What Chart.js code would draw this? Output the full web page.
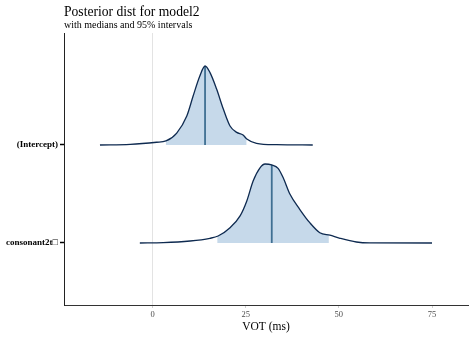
<!DOCTYPE html>
<html>
<head>
<meta charset="utf-8">
<script src="https://cdn.jsdelivr.net/npm/chart.js@4/dist/chart.umd.min.js"></script>
<style>
html,body{margin:0;padding:0;background:#fff;}
#wrap{width:474px;height:338px;}
</style>
</head>
<body>
<div id="wrap"><canvas id="c" width="474" height="338"></canvas></div>
<script>
// ---- data ----
const parameters = ["(Intercept)", "consonant2t\u25A1"];
const baselines = [2, 1];
const xTicks = [0, 25, 50, 75];

const interceptX = [-14.1, -6.0, 1.1, 3.6, 6.5, 9.2, 10.9, 12.7, 14.1, 15.4, 17.2, 19.0, 20.8, 22.6, 24.3, 25.3, 27.9, 33.3, 43.0];
const interceptD = [0, 0.007, 0.028, 0.041, 0.122, 0.296, 0.50, 0.704, 0.806, 0.741, 0.571, 0.367, 0.194, 0.129, 0.102, 0.061, 0.017, 0.003, 0];

const consonantX = [-3.4, 2.9, 10.1, 15.4, 17.6, 20.8, 23.5, 25.3, 27.0, 28.8, 30.2, 32.0, 33.7, 35.1, 36.9, 39.5, 42.2, 44.9, 47.6, 50.3, 54.7, 58.3, 75.0];
const consonantD = [0, 0.003, 0.02, 0.048, 0.071, 0.156, 0.276, 0.429, 0.633, 0.765, 0.806, 0.796, 0.762, 0.663, 0.497, 0.344, 0.207, 0.105, 0.079, 0.048, 0.01, 0.001, 0];

const medians = [14.1, 32.0];
const intervalLow = [3.6, 17.4];
const intervalHigh = [25.2, 47.3];

// ---- build ----
const serif = '"Liberation Serif", "Times New Roman", serif';
const outlineColor = '#0e2a50';
const fillColor = '#c6d9ea';
const medianColor = '#3f6f92';

function ridgePoints(xs, ds, base) {
  return xs.map((x, i) => ({x: x, y: base + ds[i]}));
}
function interp(xs, ds, x) {
  for (let i = 0; i < xs.length - 1; i++) {
    if (x >= xs[i] && x <= xs[i + 1]) {
      const t = (x - xs[i]) / (xs[i + 1] - xs[i]);
      return ds[i] + t * (ds[i + 1] - ds[i]);
    }
  }
  return 0;
}
const series = [[interceptX, interceptD], [consonantX, consonantD]];

const datasets = [];
series.forEach((s, k) => {
  datasets.push({
    label: parameters[k],
    data: ridgePoints(s[0], s[1], baselines[k]),
    borderColor: outlineColor,
    borderWidth: 1.3,
    pointRadius: 0,
    fill: false,
    cubicInterpolationMode: 'monotone',
    order: 1,
    ridgeIndex: k
  });
  const hm = interp(s[0], s[1], medians[k]);
  datasets.push({
    label: parameters[k] + ' median',
    data: [{x: medians[k], y: baselines[k]}, {x: medians[k], y: baselines[k] + hm}],
    borderColor: medianColor,
    borderWidth: 1.8,
    pointRadius: 0,
    fill: false,
    order: 2
  });
});

const shadePlugin = {
  id: 'shade',
  beforeDatasetsDraw(chart) {
    const ctx = chart.ctx;
    const xs = chart.scales.x, ys = chart.scales.y;
    const area = chart.chartArea;
    // zero reference line
    const x0 = xs.getPixelForValue(0);
    ctx.save();
    ctx.strokeStyle = '#e3e3e3';
    ctx.lineWidth = 1;
    ctx.beginPath();
    ctx.moveTo(x0, area.top);
    ctx.lineTo(x0, area.bottom);
    ctx.stroke();
    ctx.restore();
    chart.data.datasets.forEach((ds, i) => {
      if (ds.ridgeIndex === undefined) return;
      const k = ds.ridgeIndex;
      const meta = chart.getDatasetMeta(i);
      const line = meta.dataset;
      const pts = meta.data;
      const basePx = ys.getPixelForValue(baselines[k]);
      const lo = xs.getPixelForValue(intervalLow[k]);
      const hi = xs.getPixelForValue(intervalHigh[k]);
      ctx.save();
      ctx.beginPath();
      ctx.rect(lo, area.top, hi - lo, area.bottom - area.top);
      ctx.clip();
      ctx.beginPath();
      line.path(ctx);
      ctx.lineTo(pts[pts.length - 1].x, basePx);
      ctx.lineTo(pts[0].x, basePx);
      ctx.closePath();
      ctx.fillStyle = fillColor;
      ctx.fill();
      ctx.restore();
    });
  },
  afterDraw(chart) {
    const ctx = chart.ctx;
    const left = chart.chartArea.left;
    ctx.save();
    ctx.fillStyle = '#000';
    ctx.textAlign = 'left';
    ctx.textBaseline = 'alphabetic';
    ctx.font = '13.6px ' + serif;
    ctx.fillText('Posterior dist for model2', left, 16);
    ctx.font = '10px ' + serif;
    ctx.fillText('with medians and 95% intervals', left, 28);
    ctx.restore();
  }
};

new Chart(document.getElementById('c'), {
  type: 'line',
  data: {datasets: datasets},
  options: {
    responsive: false,
    animation: false,
    layout: {padding: {top: 33, right: 6, left: 0, bottom: 0}},
    plugins: {legend: {display: false}, tooltip: {enabled: false}, title: {display: false}},
    scales: {
      x: {
        type: 'linear',
        min: -23.75,
        max: 84.66,
        afterBuildTicks: (scale) => { scale.ticks = xTicks.map(v => ({value: v})); },
        afterFit: (scale) => { scale.height = 33; },
        ticks: {
          color: '#4d4d4d',
          font: {family: serif, size: 8.5},
          padding: 2,
          maxRotation: 0
        },
        grid: {drawOnChartArea: false, drawTicks: true, tickLength: 3, color: '#d0d0d0'},
        border: {display: true, color: '#333', width: 1},
        title: {
          display: true,
          text: 'VOT (ms)',
          color: '#000',
          font: {family: serif, size: 11.5},
          padding: {top: 0, bottom: 4}
        }
      },
      y: {
        type: 'linear',
        min: 0.367,
        max: 3.143,
        afterBuildTicks: (scale) => { scale.ticks = baselines.map(v => ({value: v})); },
        afterFit: (scale) => { scale.width = 64; },
        ticks: {
          color: '#000',
          font: {family: serif, size: 9, weight: 'bold'},
          padding: 2,
          callback: (v) => parameters[baselines.indexOf(v)]
        },
        grid: {drawOnChartArea: false, drawTicks: true, tickLength: 4, color: '#000', tickWidth: 1.5},
        border: {display: true, color: '#222', width: 1}
      }
    }
  },
  plugins: [shadePlugin]
});
</script>
</body>
</html>
